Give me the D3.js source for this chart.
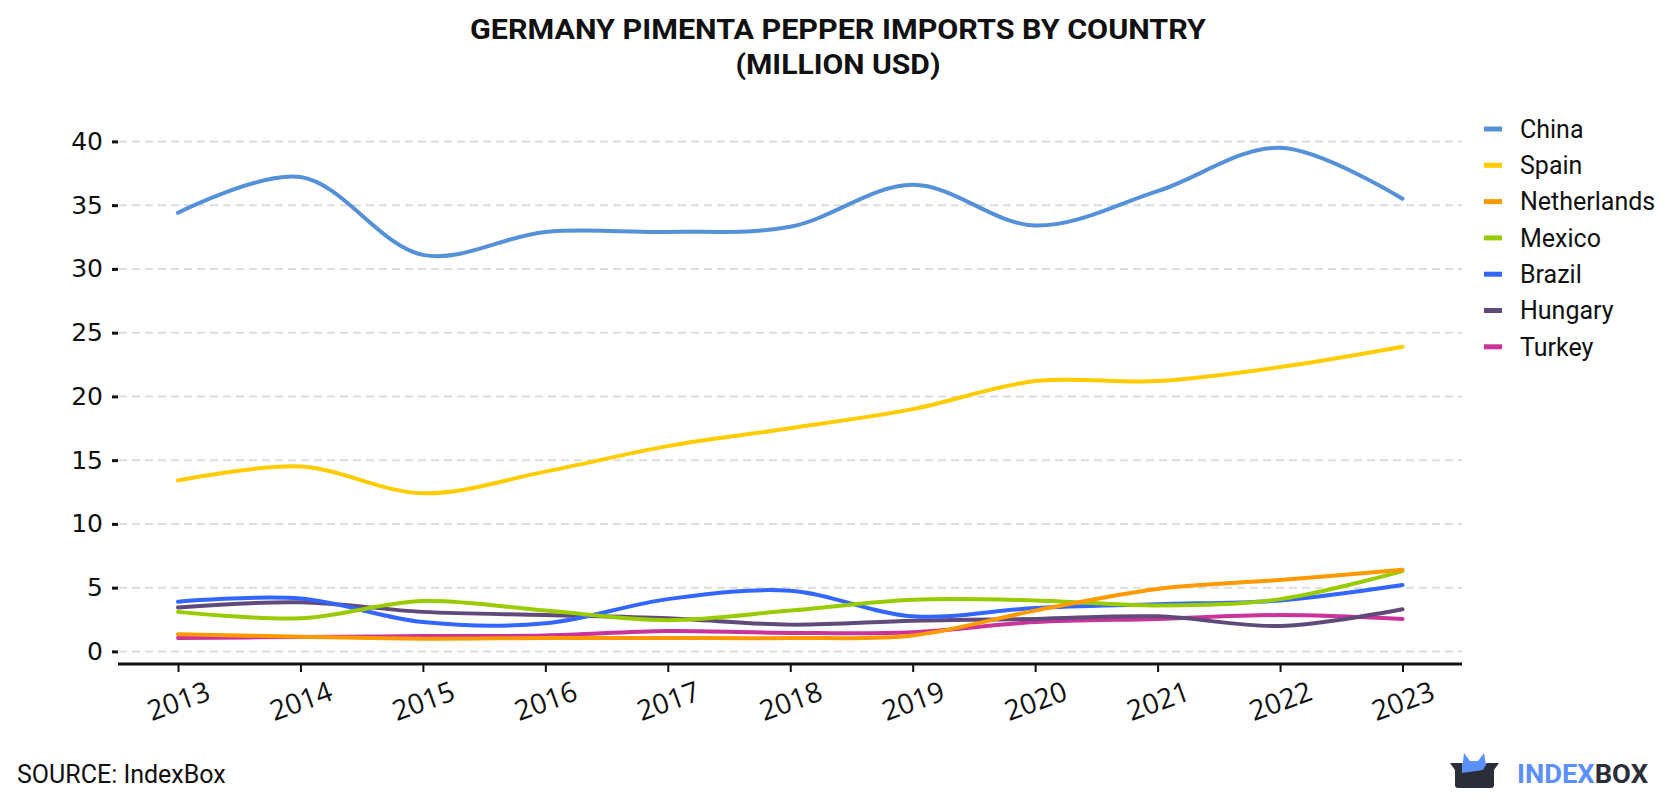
<!DOCTYPE html>
<html>
<head>
<meta charset="utf-8">
<script src="https://cdn.jsdelivr.net/npm/d3@7"></script>
<style>
  body { margin: 0; background: #fff; }
  svg { display: block; font-family: Roboto, sans-serif; }
  .grid line { stroke: #dddddd; stroke-width: 2; stroke-dasharray: 8,5; }
</style>
</head>
<body>
<div id="chart"></div>
<script>
// data
const years = [2013, 2014, 2015, 2016, 2017, 2018, 2019, 2020, 2021, 2022, 2023];
const china       = [34.4, 37.2, 31.1, 32.9, 32.9, 33.3, 36.6, 33.4, 36.1, 39.5, 35.5];
const spain       = [13.4, 14.5, 12.4, 14.1, 16.1, 17.5, 19.0, 21.2, 21.2, 22.3, 23.9];
const netherlands = [1.35, 1.15, 1.0, 1.05, 1.05, 1.05, 1.25, 3.2, 4.9, 5.6, 6.4];
const mexico      = [3.1, 2.6, 3.95, 3.2, 2.45, 3.2, 4.05, 4.0, 3.6, 4.1, 6.3];
const brazil      = [3.9, 4.15, 2.3, 2.2, 4.1, 4.75, 2.75, 3.4, 3.7, 4.0, 5.2];
const hungary     = [3.45, 3.85, 3.1, 2.85, 2.6, 2.1, 2.4, 2.55, 2.75, 2.0, 3.3];
const turkey      = [1.05, 1.13, 1.2, 1.25, 1.6, 1.45, 1.5, 2.3, 2.55, 2.85, 2.55];
const yTicks = [0, 5, 10, 15, 20, 25, 30, 35, 40];

const series = [
  { name: "China", values: china, color: "#5591d8" },
  { name: "Spain", values: spain, color: "#ffcc00" },
  { name: "Netherlands", values: netherlands, color: "#ff9900" },
  { name: "Mexico", values: mexico, color: "#99cc00" },
  { name: "Brazil", values: brazil, color: "#3366ff" },
  { name: "Hungary", values: hungary, color: "#604a7b" },
  { name: "Turkey", values: turkey, color: "#cc3399" }
];

const width = 1680, height = 800;

const svg = d3.select("#chart").append("svg")
  .attr("width", width)
  .attr("height", height);

// title
const title = svg.append("g").attr("font-weight", "bold").attr("fill", "#111")
  .attr("text-anchor", "middle").attr("font-size", 28);
title.append("text").attr("x", 838).attr("y", 39)
  .attr("textLength", 736).attr("lengthAdjust", "spacingAndGlyphs")
  .text("GERMANY PIMENTA PEPPER IMPORTS BY COUNTRY");
title.append("text").attr("x", 838).attr("y", 74)
  .attr("textLength", 205).attr("lengthAdjust", "spacingAndGlyphs")
  .text("(MILLION USD)");

// scales
const xscale = d3.scalePoint()
  .domain(years)
  .range([178, 1402.5]);
const yscale = d3.scaleLinear()
  .domain([0, 40])
  .range([651.4, 141.4]);

// gridlines
svg.append("g").attr("class", "grid")
  .selectAll("line")
  .data(yTicks)
  .join("line")
  .attr("x1", 119).attr("x2", 1462)
  .attr("y1", d => yscale(d)).attr("y2", d => yscale(d));

// y axis
const yaxis = svg.append("g")
  .attr("transform", "translate(118,0)")
  .call(d3.axisLeft(yscale).tickValues(yTicks).tickSize(6).tickPadding(9));
yaxis.select(".domain").remove();
yaxis.selectAll(".tick line").attr("stroke", "#111").attr("stroke-width", 3);
yaxis.selectAll(".tick text").attr("font-size", 25).attr("fill", "#111")
  .attr("font-family", "'DejaVu Sans', sans-serif");

// x axis
const xaxis = svg.append("g")
  .attr("transform", "translate(0,664)")
  .call(d3.axisBottom(xscale).tickSize(8).tickSizeOuter(0));
xaxis.select(".domain").attr("d", "M118,0H1462").attr("stroke", "#111").attr("stroke-width", 3);
xaxis.selectAll(".tick line").attr("stroke", "#111").attr("stroke-width", 2);
xaxis.selectAll(".tick text")
  .attr("font-size", 28).attr("fill", "#111")
  .attr("font-family", "'Open Sans', sans-serif")
  .attr("text-anchor", "middle")
  .attr("y", 0)
  .attr("dy", "0.35em")
  .attr("transform", "translate(0,37) rotate(-20)");

// lines
const lineFunc = d3.line()
  .curve(d3.curveCatmullRom.alpha(0.5))
  .x((d, i) => xscale(years[i]))
  .y(d => yscale(d));

svg.append("g")
  .selectAll("path")
  .data(series.slice().reverse())
  .join("path")
  .attr("fill", "none")
  .attr("stroke", d => d.color)
  .attr("stroke-width", 4)
  .attr("stroke-linecap", "round")
  .attr("d", d => lineFunc(d.values));

// legend
const legend = svg.append("g")
  .selectAll("g")
  .data(series)
  .join("g")
  .attr("transform", (d, i) => `translate(1484, ${129 + i * 36.3})`);
legend.append("rect")
  .attr("x", 0).attr("y", -2.5).attr("width", 18).attr("height", 5)
  .attr("fill", d => d.color);
legend.append("text")
  .attr("x", 36).attr("y", 0).attr("dy", "0.35em")
  .attr("font-size", 25).attr("fill", "#111")
  .text(d => d.name);

// source
svg.append("text")
  .attr("x", 17).attr("y", 783)
  .attr("font-size", 25).attr("fill", "#111")
  .text("SOURCE: IndexBox");

// logo
const logo = svg.append("g").attr("transform", "translate(1450,753)");
logo.append("path")
  .attr("d", "M12,18 L14,0 L20,8 L28,8 L34,0 L37,18 Z")
  .attr("fill", "#5b8ff9");
logo.append("path")
  .attr("d", "M0,10 L49,10 L44,17 L44,32 Q44,35 41,35 L8,35 Q5,35 5,32 L5,17 Z")
  .attr("fill", "#2b2d38");
logo.append("path")
  .attr("d", "M12,10 L37,10 L33,17 L12,20 Z")
  .attr("fill", "#5b8ff9");
const logoText = logo.append("text")
  .attr("x", 67).attr("y", 30)
  .attr("font-size", 25).attr("font-weight", "bold")
  .attr("font-family", "Roboto, sans-serif")
  .attr("textLength", 131).attr("lengthAdjust", "spacingAndGlyphs");
logoText.append("tspan").attr("fill", "#5b8ff9").text("INDEX");
logoText.append("tspan").attr("fill", "#2b2d38").text("BOX");
</script>
</body>
</html>
